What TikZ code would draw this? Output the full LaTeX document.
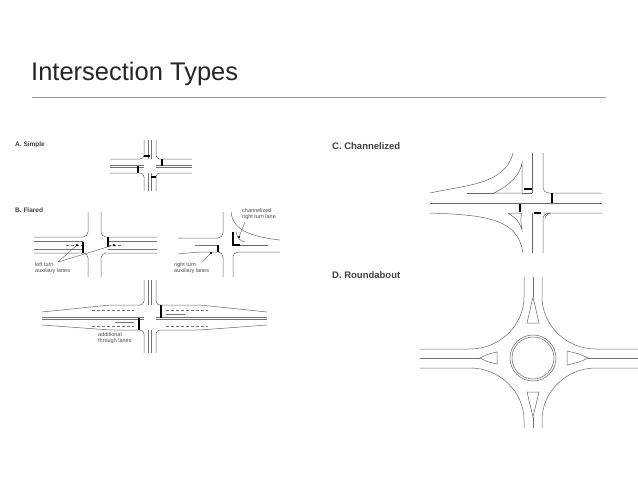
\documentclass[tikz,border=0pt]{standalone}
\usepackage{fontspec}
\setmainfont{Liberation Sans}
\begin{document}
\begin{tikzpicture}[x=1pt,y=-1pt,
  road/.style={draw=black!60,line width=0.5pt},
  cl/.style={draw=black!55,line width=0.35pt},
  bar/.style={draw=black,line width=1.1pt},
  dsh/.style={draw=black!55,line width=0.35pt,dash pattern=on 3pt off 2pt},
  hd/.style={font=\bfseries\fontsize{6.5}{7}\selectfont,text=black!75,anchor=west,inner sep=0},
  hdb/.style={font=\bfseries\fontsize{9.5}{11}\selectfont,text=black!75,anchor=west,inner sep=0},
  lab/.style={font=\fontsize{5.5}{6.5}\selectfont,text=black!70,align=left,anchor=north west,inner sep=0},
  dot/.style={circle,fill=black,inner sep=0,minimum size=2.5pt},
  lead/.style={draw=black!70,line width=0.35pt}]
\useasboundingbox (0,0) rectangle (638,479);
\fill[white] (0,0) rectangle (638,479);
% title
\node[anchor=base west,inner sep=0,font=\fontsize{25.5}{30}\selectfont,text=black!85] (title) at (31,80) {Intersection Types};
\draw[black!40,line width=0.5pt] (32,97) -- (606,97);
% macro for four corners
\newcommand\xsect[9]{%
 \draw[road,rounded corners=#9] (#5,#2-#4) -- (#1-#3,#2-#4) -- (#1-#3,#7);
 \draw[road,rounded corners=#9] (#6,#2-#4) -- (#1+#3,#2-#4) -- (#1+#3,#7);
 \draw[road,rounded corners=#9] (#5,#2+#4) -- (#1-#3,#2+#4) -- (#1-#3,#8);
 \draw[road,rounded corners=#9] (#6,#2+#4) -- (#1+#3,#2+#4) -- (#1+#3,#8);}
% A Simple
\node[hd] (ha) at (15,145) {A. Simple};
\xsect{150}{166}{6}{7}{110}{192}{140}{191}{4}
\draw[cl] (148.6,140)--(148.6,159) (151.4,140)--(151.4,159) (148.6,173)--(148.6,191) (151.4,173)--(151.4,191);
\draw[cl] (110,164.8)--(144,164.8) (110,167.2)--(144,167.2) (156,164.8)--(192,164.8) (156,167.2)--(192,167.2);
\draw[bar] (144,156)--(149.5,156) (138,166)--(138,173) (162,159)--(162,166) (150.5,177)--(156,177);
% B Flared
\node[hd] (hb) at (15,210) {B. Flared};
\xsect{94.5}{245}{6.5}{8}{34}{157}{212}{277}{5}
\draw[cl] (34,241)--(83,241) (34,249)--(83,249) (108,241)--(157,241) (108,249)--(157,249);
\draw[dsh] (66,245)--(83,245) (108,245)--(122,245);
\draw[bar] (83,242)--(83,253) (108,237)--(108,247);
\node[dot] (d1) at (77,245) {};
\node[dot] (d2) at (114,245) {};
\node[lab] (l1) at (35,262) {left turn\\auxiliary lanes};
\coordinate (l1a) at (58,262);
\draw[lead] (l1a) -- (d1);
\draw[lead] (l1a) -- (d2);
% B2
\draw[road,rounded corners=5] (178,238)--(223,238)--(223,212);
\draw[road] (231,212) .. controls (233,228) and (245,236) .. (280,240);
\draw[road] (233,232)--(233,245)--(268,245);
\draw[road] (236,232) .. controls (237,238) and (240,241) .. (245,242);
\draw[road,rounded corners=5] (178,254) .. controls (195,252) and (205,252) .. (215,252)--(223,252)--(223,277);
\draw[road,rounded corners=5] (280,252)--(233,252)--(233,277);
\draw[cl] (195,245)--(218,245);
\draw[bar] (218,245)--(218,252) (233,232)--(233,245)--(240,245);
\node[dot] (d3) at (211,253) {};
\node[dot] (d4) at (239,237) {};
\node[lab] (l3) at (242,208) {channelized\\right turn lane};
\node[lab] (l2) at (174,262) {right turn\\auxiliary lanes};
\coordinate (l3a) at (245,222);
\coordinate (l2a) at (202,262);
\draw[lead] (l3a) -- (d4);
\draw[lead] (l2a) -- (d3);
% B3
\draw[road,rounded corners=4] (42,312)--(110,305)--(144,305)--(144,280);
\draw[road,rounded corners=4] (267,312)--(200,305)--(156,305)--(156,280);
\draw[road,rounded corners=4] (42,325)--(110,330)--(144,330)--(144,353);
\draw[road,rounded corners=4] (267,325)--(200,330)--(156,330)--(156,353);
\draw[cl] (148.6,280)--(148.6,305) (151.4,280)--(151.4,305) (148.6,330)--(148.6,353) (151.4,330)--(151.4,353);
\draw[cl] (42,317.5)--(144,317.5) (42,319.5)--(144,319.5) (156,317.5)--(267,317.5) (156,319.5)--(267,319.5);
\draw[dsh] (92,310)--(134,310) (92,326)--(134,326) (166,310)--(208,310) (166,326)--(208,326);
\draw[cl] (115,322)--(134,322) (166,314)--(185,314);
\draw[bar] (139,318)--(139,330) (161,305)--(161,318);
\node[lab] (l4) at (98,332) {additional\\through lanes};
% C Channelized
\node[hdb] (hc) at (332,146) {C. Channelized};
\draw[road] (430,193) .. controls (465,185) and (505,185) .. (513,153);
\draw[road] (494,193) .. controls (510,185) and (520,175) .. (522,163) -- (522,193) -- cycle;
\draw[road] (467,193)--(494,193) (522,193)--(532,193);
\draw[road] (532,153)--(532,193) (532,213)--(532,253);
\draw[road,rounded corners=6] (543,153)--(543,193)--(602,193);
\draw[road] (430,203)--(602,203);
\draw[road] (430,213) .. controls (490,215) and (518,220) .. (523,253);
\draw[road] (508,213)--(522,213) .. controls (520,218) and (521,224) .. (522,230) .. controls (518,220) .. cycle;
\draw[road,rounded corners=6] (602,213)--(543,213)--(543,253);
\draw[road] (543,213)--(550,213) .. controls (546,215) .. (545,219);
\draw[bar] (524,189)--(532,189) (552,193)--(552,203) (520,204)--(520,212) (534,213)--(541,213);
% D Roundabout
\node[hdb] (hd) at (332,275) {D. Roundabout};
\draw[road] (533,358) circle[radius=23];
\draw[road] (533,358) circle[radius=21];
\draw[road] (420,349)--(470,349) .. controls (500,349) and (524,325) .. (524,297)--(524,277);
\draw[road] (638,349)--(596,349) .. controls (566,349) and (542,325) .. (542,297)--(542,277);
\draw[road] (420,368)--(470,368) .. controls (500,368) and (524,392) .. (524,420)--(524,428);
\draw[road] (638,368)--(596,368) .. controls (566,368) and (542,392) .. (542,420)--(542,428);
\draw[cl] (420,358)--(480,358) (588,358)--(638,358) (533,277)--(533,297) (533,417)--(533,428);
\draw[road] (480,358) .. controls (488,354) .. (497,352) -- (497,364) .. controls (488,362) .. cycle;
\draw[road] (588,358) .. controls (580,354) .. (567,351) -- (567,365) .. controls (580,362) .. cycle;
\draw[road] (533,297) .. controls (530,310) .. (527,323) -- (539,323) .. controls (536,310) .. cycle;
\draw[road] (533,417) .. controls (530,404) .. (527,392) -- (539,392) .. controls (536,404) .. cycle;
\draw[black!40,line width=0.3pt,dash pattern=on 1pt off 1pt] (533,358) ++(130:37) arc[start angle=130,end angle=110,radius=37];
\end{tikzpicture}
\end{document}
